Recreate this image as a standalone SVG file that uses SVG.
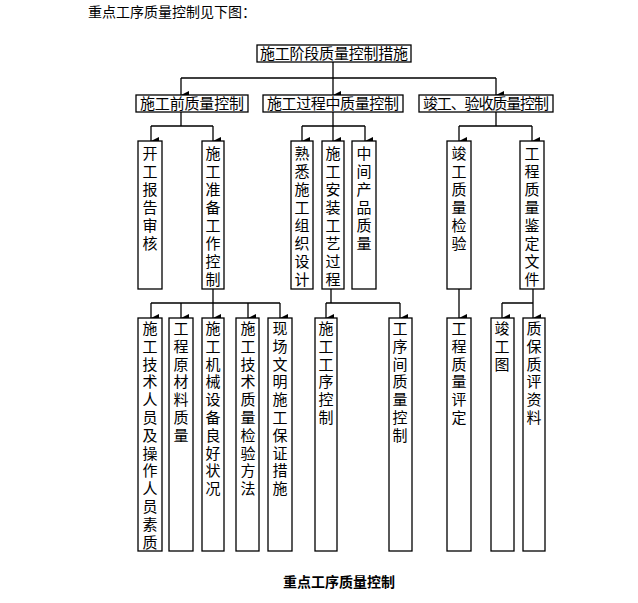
<svg xmlns="http://www.w3.org/2000/svg" width="638" height="603" viewBox="0 0 638 603">
<defs>
<marker id="ar" viewBox="0 0 8 8" refX="4" refY="8" markerWidth="8" markerHeight="8" markerUnits="userSpaceOnUse" orient="auto-start-reverse"><path d="M0,0 L8,0 L4,8 Z" fill="#000"/></marker>
<style>
rect{fill:#fff;stroke:#000;stroke-width:1.3}
text{font-family:"Noto Sans CJK SC","Noto Sans",sans-serif;font-size:15px;fill:#000}
.v{text-anchor:middle}
.c path{fill:none;stroke:#000;stroke-width:1.3}
.c .a{marker-end:url(#ar)}
</style>
</defs>
<rect x="0" y="0" width="638" height="603" style="fill:#fff;stroke:none"/>
<text x="88" y="17" style="font-size:14px">重点工序质量控制见下图：</text>
<text x="283" y="587" style="font-size:14px;font-weight:bold">重点工序质量控制</text>
<g class="c">
<path d="M333,62 V78 M181,78 H496"/>
<path class="a" d="M181,78 V95"/><path class="a" d="M333,78 V95"/><path class="a" d="M496,78 V95"/>
<path d="M181,112 V126 M151,126 H213"/>
<path class="a" d="M151,126 V141"/><path class="a" d="M213,126 V141"/>
<path d="M333,112 V126 M302,126 H365"/>
<path class="a" d="M302,126 V141"/><path class="a" d="M333,126 V141"/><path class="a" d="M365,126 V141"/>
<path d="M496,112 V126 M459,126 H532"/>
<path class="a" d="M459,126 V141"/><path class="a" d="M532,126 V141"/>
<path d="M213,289 V303 M151,303 H280"/>
<path class="a" d="M151,303 V318"/><path class="a" d="M181,303 V318"/><path class="a" d="M213,303 V318"/><path class="a" d="M248,303 V318"/><path class="a" d="M280,303 V318"/>
<path d="M331,289 V303 M326,303 H400"/>
<path class="a" d="M326,303 V318"/><path class="a" d="M400,303 V318"/>
<path class="a" d="M459,289 V318"/>
<path d="M533,289 V303 M502,303 H533"/>
<path class="a" d="M502,303 V318"/><path class="a" d="M533,303 V318"/>
</g>
<g id="n0"><rect x="257" y="45" width="154" height="17"/><text x="334" y="59" class="v" textLength="148">施工阶段质量控制措施</text></g>
<g id="n1"><rect x="136" y="95" width="112" height="17"/><text x="192" y="109" class="v" textLength="104">施工前质量控制</text></g>
<g id="n2"><rect x="263" y="95" width="140" height="17"/><text x="333" y="109" class="v" textLength="132">施工过程中质量控制</text></g>
<g id="n3"><rect x="419" y="95" width="134" height="17"/><text x="486" y="109" class="v" textLength="126">竣工、验收质量控制</text></g>
<g id="n4"><rect x="138" y="141" width="24" height="148"/><text class="v"><tspan x="150" y="159">开</tspan><tspan x="150" dy="18">工</tspan><tspan x="150" dy="18">报</tspan><tspan x="150" dy="18">告</tspan><tspan x="150" dy="18">审</tspan><tspan x="150" dy="18">核</tspan></text></g>
<g id="n5"><rect x="202" y="141" width="22" height="148"/><text class="v"><tspan x="213" y="159">施</tspan><tspan x="213" dy="18">工</tspan><tspan x="213" dy="18">准</tspan><tspan x="213" dy="18">备</tspan><tspan x="213" dy="18">工</tspan><tspan x="213" dy="18">作</tspan><tspan x="213" dy="18">控</tspan><tspan x="213" dy="18">制</tspan></text></g>
<g id="n6"><rect x="291" y="141" width="22" height="148"/><text class="v"><tspan x="302" y="159">熟</tspan><tspan x="302" dy="18">悉</tspan><tspan x="302" dy="18">施</tspan><tspan x="302" dy="18">工</tspan><tspan x="302" dy="18">组</tspan><tspan x="302" dy="18">织</tspan><tspan x="302" dy="18">设</tspan><tspan x="302" dy="18">计</tspan></text></g>
<g id="n7"><rect x="322" y="141" width="22" height="148"/><text class="v"><tspan x="333" y="159">施</tspan><tspan x="333" dy="18">工</tspan><tspan x="333" dy="18">安</tspan><tspan x="333" dy="18">装</tspan><tspan x="333" dy="18">工</tspan><tspan x="333" dy="18">艺</tspan><tspan x="333" dy="18">过</tspan><tspan x="333" dy="18">程</tspan></text></g>
<g id="n8"><rect x="352" y="141" width="24" height="148"/><text class="v"><tspan x="364" y="159">中</tspan><tspan x="364" dy="18">间</tspan><tspan x="364" dy="18">产</tspan><tspan x="364" dy="18">品</tspan><tspan x="364" dy="18">质</tspan><tspan x="364" dy="18">量</tspan></text></g>
<g id="n9"><rect x="447" y="141" width="24" height="148"/><text class="v"><tspan x="459" y="159">竣</tspan><tspan x="459" dy="18">工</tspan><tspan x="459" dy="18">质</tspan><tspan x="459" dy="18">量</tspan><tspan x="459" dy="18">检</tspan><tspan x="459" dy="18">验</tspan></text></g>
<g id="n10"><rect x="520" y="141" width="24" height="148"/><text class="v"><tspan x="532" y="159">工</tspan><tspan x="532" dy="18">程</tspan><tspan x="532" dy="18">质</tspan><tspan x="532" dy="18">量</tspan><tspan x="532" dy="18">鉴</tspan><tspan x="532" dy="18">定</tspan><tspan x="532" dy="18">文</tspan><tspan x="532" dy="18">件</tspan></text></g>
<g id="n11"><rect x="138" y="318" width="24" height="233"/><text class="v"><tspan x="150" y="334">施</tspan><tspan x="150" dy="17.8">工</tspan><tspan x="150" dy="17.8">技</tspan><tspan x="150" dy="17.8">术</tspan><tspan x="150" dy="17.8">人</tspan><tspan x="150" dy="17.8">员</tspan><tspan x="150" dy="17.8">及</tspan><tspan x="150" dy="17.8">操</tspan><tspan x="150" dy="17.8">作</tspan><tspan x="150" dy="17.8">人</tspan><tspan x="150" dy="17.8">员</tspan><tspan x="150" dy="17.8">素</tspan><tspan x="150" dy="17.8">质</tspan></text></g>
<g id="n12"><rect x="169" y="318" width="24" height="233"/><text class="v"><tspan x="181" y="334">工</tspan><tspan x="181" dy="17.8">程</tspan><tspan x="181" dy="17.8">原</tspan><tspan x="181" dy="17.8">材</tspan><tspan x="181" dy="17.8">料</tspan><tspan x="181" dy="17.8">质</tspan><tspan x="181" dy="17.8">量</tspan></text></g>
<g id="n13"><rect x="202" y="318" width="22" height="233"/><text class="v"><tspan x="213" y="334">施</tspan><tspan x="213" dy="17.8">工</tspan><tspan x="213" dy="17.8">机</tspan><tspan x="213" dy="17.8">械</tspan><tspan x="213" dy="17.8">设</tspan><tspan x="213" dy="17.8">备</tspan><tspan x="213" dy="17.8">良</tspan><tspan x="213" dy="17.8">好</tspan><tspan x="213" dy="17.8">状</tspan><tspan x="213" dy="17.8">况</tspan></text></g>
<g id="n14"><rect x="236" y="318" width="23" height="233"/><text class="v"><tspan x="248" y="334">施</tspan><tspan x="248" dy="17.8">工</tspan><tspan x="248" dy="17.8">技</tspan><tspan x="248" dy="17.8">术</tspan><tspan x="248" dy="17.8">质</tspan><tspan x="248" dy="17.8">量</tspan><tspan x="248" dy="17.8">检</tspan><tspan x="248" dy="17.8">验</tspan><tspan x="248" dy="17.8">方</tspan><tspan x="248" dy="17.8">法</tspan></text></g>
<g id="n15"><rect x="268" y="318" width="24" height="233"/><text class="v"><tspan x="280" y="334">现</tspan><tspan x="280" dy="17.8">场</tspan><tspan x="280" dy="17.8">文</tspan><tspan x="280" dy="17.8">明</tspan><tspan x="280" dy="17.8">施</tspan><tspan x="280" dy="17.8">工</tspan><tspan x="280" dy="17.8">保</tspan><tspan x="280" dy="17.8">证</tspan><tspan x="280" dy="17.8">措</tspan><tspan x="280" dy="17.8">施</tspan></text></g>
<g id="n16"><rect x="315" y="318" width="22" height="233"/><text class="v"><tspan x="326" y="334">施</tspan><tspan x="326" dy="17.8">工</tspan><tspan x="326" dy="17.8">工</tspan><tspan x="326" dy="17.8">序</tspan><tspan x="326" dy="17.8">控</tspan><tspan x="326" dy="17.8">制</tspan></text></g>
<g id="n17"><rect x="389" y="318" width="23" height="233"/><text class="v"><tspan x="400" y="334">工</tspan><tspan x="400" dy="17.8">序</tspan><tspan x="400" dy="17.8">间</tspan><tspan x="400" dy="17.8">质</tspan><tspan x="400" dy="17.8">量</tspan><tspan x="400" dy="17.8">控</tspan><tspan x="400" dy="17.8">制</tspan></text></g>
<g id="n18"><rect x="447" y="318" width="24" height="233"/><text class="v"><tspan x="459" y="334">工</tspan><tspan x="459" dy="17.8">程</tspan><tspan x="459" dy="17.8">质</tspan><tspan x="459" dy="17.8">量</tspan><tspan x="459" dy="17.8">评</tspan><tspan x="459" dy="17.8">定</tspan></text></g>
<g id="n19"><rect x="491" y="318" width="23" height="233"/><text class="v"><tspan x="502" y="334">竣</tspan><tspan x="502" dy="17.8">工</tspan><tspan x="502" dy="17.8">图</tspan></text></g>
<g id="n20"><rect x="523" y="318" width="22" height="233"/><text class="v"><tspan x="534" y="334">质</tspan><tspan x="534" dy="17.8">保</tspan><tspan x="534" dy="17.8">质</tspan><tspan x="534" dy="17.8">评</tspan><tspan x="534" dy="17.8">资</tspan><tspan x="534" dy="17.8">料</tspan></text></g>
</svg>
